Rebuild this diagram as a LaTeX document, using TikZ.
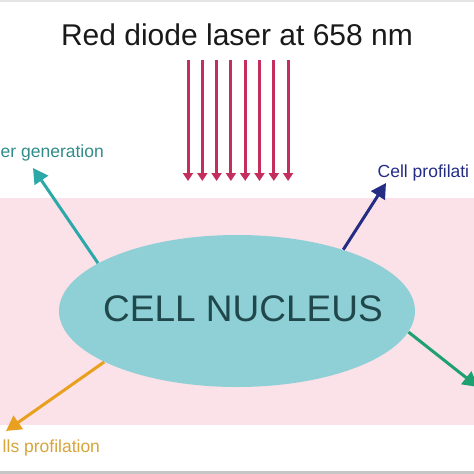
\documentclass[tikz,border=0pt]{standalone}
\usepackage{fontspec}
\setmainfont{Liberation Sans}
\usetikzlibrary{arrows.meta,shapes.geometric}
\definecolor{laserred}{RGB}{196,46,92}
\definecolor{pinkband}{RGB}{251,225,232}
\definecolor{nucleusfill}{RGB}{142,208,214}
\definecolor{nucleustext}{RGB}{32,72,76}
\definecolor{tealarrow}{RGB}{44,168,168}
\definecolor{tealtext}{RGB}{48,140,138}
\definecolor{bluearrow}{RGB}{36,44,132}
\definecolor{greenarrow}{RGB}{30,160,112}
\definecolor{orangearrow}{RGB}{232,160,30}
\definecolor{orangetext}{RGB}{214,164,58}
\begin{document}
\begin{tikzpicture}[x=1pt,y=-1pt,thick,
    beam/.style={-{Triangle[width=10pt,length=8pt]},line width=3pt,laserred},
    effect/.style={-{Triangle[width=16pt,length=15pt]},line width=3pt},
    label node/.style={anchor=west,font=\fontsize{17.5}{20}\selectfont}]
                \useasboundingbox (0,0) rectangle (474,474);
                \fill[pinkband] (0,198) rectangle (474,425);
                \fill[gray!20] (0,0) rectangle (474,2);
                \fill[gray!45] (0,471) rectangle (474,474);

                \node[font=\fontsize{30}{36}\selectfont,text=black!90] at (237,35) (title) {Red diode laser at 658 nm};
                \node[ellipse,minimum width=356pt,minimum height=152pt,inner sep=0pt,fill=nucleusfill] at (237,311) (nucleus) {};
                \node[text=nucleustext,font=\fontsize{37}{40}\selectfont] at (243,309) (nucleus text) {CELL NUCLEUS};

                \node[label node,text=tealtext] at (-3,153) (lasergen) {er generation};
                \node[label node,text=bluearrow] at (374,173) (cellprolif) {Cell profilati};
                \node[label node,text=orangetext] at (-1,448) (cellsprolif) {lls profilation};

                \coordinate (teal tip) at (33,168);
                \coordinate (blue tip) at (386,183);
                \coordinate (green tip) at (478,387);
                \coordinate (orange tip) at (6,431);

                \foreach \i in {0,...,7} {
                    \coordinate (beam top \i) at (188+14.3*\i,60);
                    \coordinate (beam end \i) at (188+14.3*\i,181);
                    \path[beam] (beam top \i) edge (beam end \i);
                }

                \path[effect,tealarrow] (nucleus.161) edge (teal tip);
                \path[effect,bluearrow] (nucleus.30) edge (blue tip);
                \path[effect,greenarrow] (nucleus.353) edge (green tip);
                \path[effect,orangearrow] (nucleus.201) edge (orange tip);
            \end{tikzpicture}
\end{document}
